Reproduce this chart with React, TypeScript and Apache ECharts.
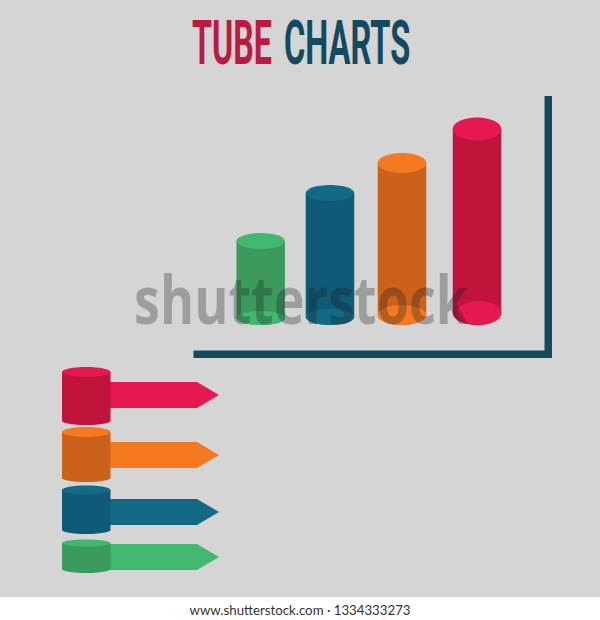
import React, { useEffect, useRef } from "react";
import * as echarts from "echarts";

const tubeNames = ["Green", "Teal", "Orange", "Red"];
const tubeValues = [75, 123, 153, 187];
const legendNames = ["Red", "Orange", "Teal", "Green"];
const legendTubeHeights = [49, 46, 40, 26];
const legendArrowLengths = [109, 109, 109, 109];

const BODY: Record<string, string> = { Green: "#3c9a5f", Teal: "#0e5a78", Orange: "#cb611a", Red: "#c0143c" };
const LIGHT: Record<string, string> = { Green: "#40b870", Teal: "#126a85", Orange: "#f47920", Red: "#e5194f" };
const NAVY = "#134a60";
const BG = "#d5d5d5";
const TUBE_NUDGE = [0.7, -2, -2, 1];
const TUBE_RY = [8, 8, 10, 11.5];
const TUBE_BASE_RY = [7, 8, 10, 12];
const LEGEND_NUDGE = [1, 7, 10, 1];
const LEGEND_TOP_OFFSET = [23, 23, 22, 14];
const LEGEND_TOP_RY = [5, 5, 4.5, 3.5];

function tubeItem(params: any, api: any) {
  const i = params.dataIndex;
  const name = tubeNames[i];
  const top = api.coord([i, api.value(1)]);
  const base = api.coord([i, 0]);
  const cx = top[0] + TUBE_NUDGE[i];
  const hw = 24.25;
  const ry = TUBE_RY[i];
  const bry = TUBE_BASE_RY[i];
  const baseY = base[1] + 9 - bry;
  const inset = i === 3 ? 2 : 0;
  return {
    type: "group",
    children: [
      { type: "rect", shape: { x: cx - hw, y: top[1], width: hw * 2, height: baseY - top[1] }, style: { fill: BODY[name] } },
      { type: "ellipse", shape: { cx, cy: baseY, rx: hw, ry: bry }, style: { fill: BODY[name] } },
      { type: "ellipse", shape: { cx: cx + inset, cy: baseY, rx: hw - inset, ry: bry }, style: { fill: LIGHT[name] } },
      { type: "ellipse", shape: { cx, cy: top[1], rx: hw, ry }, style: { fill: LIGHT[name] } },
    ],
  };
}

function arrowItem(params: any, api: any) {
  const i = params.dataIndex;
  const name = legendNames[i];
  const start = api.coord([0, i]);
  const end = api.coord([api.value(0), i]);
  const y = start[1] + LEGEND_NUDGE[i];
  const h = 13;
  return {
    type: "polygon",
    shape: { points: [[start[0], y - h], [end[0] - 22, y - h], [end[0], y], [end[0] - 22, y + h], [start[0], y + h]] },
    style: { fill: LIGHT[name] },
  };
}

function legendTubeItem(params: any, api: any) {
  const i = params.dataIndex;
  const name = legendNames[i];
  const start = api.coord([0, i]);
  const height = api.size([api.value(0), 0])[0];
  const hw = 24.25;
  const cx = start[0] - hw + 0.5;
  const yc = start[1] + LEGEND_NUDGE[i];
  const topY = yc - LEGEND_TOP_OFFSET[i];
  const botY = topY + height;
  return {
    type: "group",
    children: [
      { type: "ellipse", shape: { cx, cy: botY, rx: hw, ry: 4 }, style: { fill: BODY[name] } },
      { type: "rect", shape: { x: cx - hw, y: topY, width: hw * 2, height: height }, style: { fill: BODY[name] } },
      { type: "ellipse", shape: { cx, cy: topY, rx: hw, ry: LEGEND_TOP_RY[i] }, style: { fill: LIGHT[name] } },
    ],
  };
}

export default function App() {
  const ref = useRef<HTMLDivElement>(null);
  useEffect(() => {
    const chart = echarts.init(ref.current!, undefined, { renderer: "svg" });
    chart.setOption({
      animation: false,
      backgroundColor: BG,
      grid: [
        { left: 224, right: 88, top: 96, bottom: 266 },
        { left: 110, right: 381, top: 367, height: 216 },
      ],
      xAxis: [
        { type: "category", data: tubeNames, gridIndex: 0, show: false },
        { type: "value", gridIndex: 1, min: 0, max: 109, show: false },
      ],
      yAxis: [
        { type: "value", gridIndex: 0, min: -38, max: 220, show: false },
        { type: "category", gridIndex: 1, data: legendNames, inverse: true, show: false },
      ],
      series: [
        {
          type: "custom", xAxisIndex: 0, yAxisIndex: 0, renderItem: tubeItem,
          encode: { x: 0, y: 1 },
          data: tubeNames.map((n, i) => [n, tubeValues[i]]),
          clip: false, z: 3,
        },
        {
          type: "custom", xAxisIndex: 1, yAxisIndex: 1, renderItem: arrowItem,
          encode: { x: 0, y: 1 },
          data: legendNames.map((n, i) => [legendArrowLengths[i], n]),
          clip: false, z: 3,
        },
        {
          type: "custom", xAxisIndex: 1, yAxisIndex: 1, renderItem: legendTubeItem,
          encode: { x: 0, y: 1 },
          data: legendNames.map((n, i) => [legendTubeHeights[i], n]),
          clip: false, z: 4,
        },
      ],
      graphic: [
        { type: "rect", z: 2, shape: { x: 193.5, y: 350.5, width: 358.5, height: 7.5 }, style: { fill: NAVY } },
        { type: "rect", z: 2, shape: { x: 544.5, y: 96, width: 7.5, height: 262 }, style: { fill: NAVY } },
        { type: "text", z: 5, x: 192, y: 43, scaleX: 0.52, style: { text: "TUBE", fill: "#bd1a41", font: "bold 62px 'Liberation Sans Narrow', Roboto, sans-serif", textVerticalAlign: "middle" } },
        { type: "text", z: 5, x: 284, y: 43, scaleX: 0.525, style: { text: "CHARTS", fill: NAVY, font: "bold 62px 'Liberation Sans Narrow', Roboto, sans-serif", textVerticalAlign: "middle" } },
        { type: "text", z: 10, x: 134, y: 298, scaleX: 0.79, style: { text: "shutterstock", fill: "rgba(30,30,30,0.3)", font: "700 66px 'Open Sans', sans-serif", textVerticalAlign: "middle" } },
        { type: "rect", z: 8, shape: { x: 0, y: 597, width: 600, height: 23 }, style: { fill: "#ffffff" } },
        { type: "text", z: 9, x: 300, y: 610, scaleX: 0.96, style: { text: "www.shutterstock.com · 1334333273", fill: "#333333", font: "13.8px Lato, sans-serif", textAlign: "center", textVerticalAlign: "middle" } },
      ],
    });
    return () => chart.dispose();
  }, []);
  return <div ref={ref} style={{ position: "fixed", left: 0, top: 0, width: 600, height: 620 }} />;
}
